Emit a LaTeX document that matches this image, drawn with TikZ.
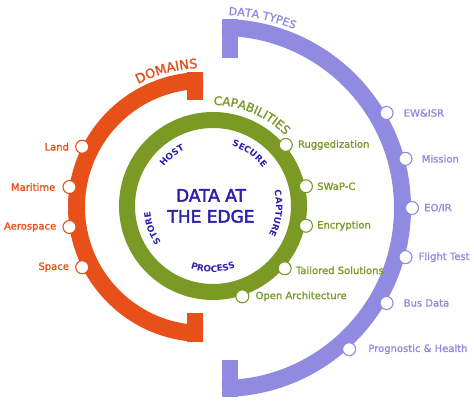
\documentclass[tikz,border=0pt]{standalone}
\usepackage{fontspec}
\setmainfont{DejaVu Sans}
\newfontfamily\labfont{DejaVu Sans}[FakeBold=1.5]
\newfontfamily\edgefont{DejaVu Sans}[FakeBold=2.5]
\usetikzlibrary{positioning, calc, decorations.text}
\definecolor{DomainRed}{RGB}{232,80,26}
\definecolor{CapGreen}{RGB}{122,153,37}
\definecolor{TypeViolet}{RGB}{144,138,224}
\definecolor{EdgeBlue}{RGB}{42,30,170}

\begin{document}
\begin{tikzpicture}[x=1pt, y=1pt,
    dot/.style={circle, draw=#1, fill=white, line width=1.1pt, minimum size=13pt, inner sep=0pt},
    lab/.style={text=#1, font=\labfont\fontsize{10}{12}\selectfont, inner sep=0pt},
    arctext/.style={decorate, decoration={text along path, text align=center, text={#1}}}]
    \useasboundingbox (0,0) rectangle (474,401);
    \coordinate (O) at (203,194);
    \coordinate (G) at (213,195);
    \coordinate (P) at (222,193);

    % Domains ring
    \draw[DomainRed, line width=17pt] ([shift={(90:126.5pt)}]O) arc[start angle=90, end angle=270, radius=126.5pt];
    \fill[DomainRed] (187,301) rectangle (203,329);
    \fill[DomainRed] (187,59) rectangle (203,88);
    \path[arctext={|\labfont\color{DomainRed}\fontsize{13}{13}\selectfont|DOMAINS}] ([shift={(130:139pt)}]O) arc[start angle=130, end angle=80, radius=139pt];

    % Data types ring
    \draw[TypeViolet, line width=17pt] ([shift={(90:180.5pt)}]P) arc[start angle=90, end angle=-90, radius=180.5pt];
    \fill[TypeViolet] (222,343) rectangle (238,382);
    \fill[TypeViolet] (222,4) rectangle (238,41);
    \path[arctext={|\labfont\color{TypeViolet}\fontsize{11}{11}\selectfont|DATA TYPES}] ([shift={(100:193pt)}]P) arc[start angle=100, end angle=56, radius=193pt];

    % Capabilities ring
    \draw[CapGreen, line width=16pt] (G) circle[radius=86pt];
    \path[arctext={|\labfont\color{CapGreen}\fontsize{12}{12}\selectfont|CAPABILITIES}] ([shift={(101:101pt)}]G) arc[start angle=101, end angle=33, radius=101pt];

    % Inner words
    \path[arctext={|\color{EdgeBlue}\fontsize{8.8}{8.8}\selectfont\bfseries|HOST}] ([shift={(155:63pt)}]G) arc[start angle=155, end angle=103, radius=63pt];
    \path[arctext={|\color{EdgeBlue}\fontsize{8.8}{8.8}\selectfont\bfseries|SECURE}] ([shift={(85:63pt)}]G) arc[start angle=85, end angle=25, radius=63pt];
    \path[arctext={|\color{EdgeBlue}\fontsize{8.8}{8.8}\selectfont\bfseries|CAPTURE}] ([shift={(28:63pt)}]G) arc[start angle=28, end angle=-42, radius=63pt];
    \path[arctext={|\color{EdgeBlue}\fontsize{8.8}{8.8}\selectfont\bfseries|PROCESS}] ([shift={(235:66pt)}]G) arc[start angle=235, end angle=305, radius=66pt];
    \path[arctext={|\color{EdgeBlue}\fontsize{8.8}{8.8}\selectfont\bfseries|STORE}] ([shift={(228:63pt)}]G) arc[start angle=228, end angle=172, radius=63pt];

    \node[text=EdgeBlue, align=center, font=\edgefont\fontsize{17}{21}\selectfont] (core) at (211,195) {DATA AT\\THE EDGE};

    % Domain markers
    \node[dot=DomainRed] (land) at ([shift={(153.5:135pt)}]O) {};
    \node[dot=DomainRed] (maritime) at ([shift={(171.5:135pt)}]O) {};
    \node[dot=DomainRed] (aero) at ([shift={(188.5:135pt)}]O) {};
    \node[dot=DomainRed] (space) at ([shift={(206.5:135pt)}]O) {};
    \node[lab=DomainRed, left=6pt of land] (landtxt) {Land};
    \node[lab=DomainRed, left=7pt of maritime] (maritimetxt) {Maritime};
    \node[lab=DomainRed, left=6pt of aero] (aerotxt) {Aerospace};
    \node[lab=DomainRed, left=6pt of space] (spacetxt) {Space};

    % Capability markers
    \node[dot=CapGreen] (rugged) at ([shift={(40:95pt)}]G) {};
    \node[dot=CapGreen] (swap) at ([shift={(12:95pt)}]G) {};
    \node[dot=CapGreen] (crypt) at ([shift={(-12:95pt)}]G) {};
    \node[dot=CapGreen] (tailor) at ([shift={(-41:95pt)}]G) {};
    \node[dot=CapGreen] (openarch) at ([shift={(-72:95pt)}]G) {};
    \node[lab=CapGreen, right=5pt of rugged] (ruggedtxt) {Ruggedization};
    \node[lab=CapGreen, right=4pt of swap] (swaptxt) {SWaP-C};
    \node[lab=CapGreen, right=4pt of crypt] (crypttxt) {Encryption};
    \node[lab=CapGreen, right=4pt of tailor, yshift=-2pt] (tailortxt) {Tailored Solutions};
    \node[lab=CapGreen, right=6pt of openarch] (openarchtxt) {Open Architecture};

    % Data type markers
    \node[dot=TypeViolet] (ewisr) at ([shift={(30:190pt)}]P) {};
    \node[dot=TypeViolet] (mission) at ([shift={(15:190pt)}]P) {};
    \node[dot=TypeViolet] (eoir) at ([shift={(0:190pt)}]P) {};
    \node[dot=TypeViolet] (flight) at ([shift={(-15:190pt)}]P) {};
    \node[dot=TypeViolet] (bus) at ([shift={(-30:190pt)}]P) {};
    \node[dot=TypeViolet] (health) at ([shift={(-48:190pt)}]P) {};
    \node[lab=TypeViolet, right=10pt of ewisr] (ewisrtxt) {EW\&ISR};
    \node[lab=TypeViolet, right=9pt of mission] (missiontxt) {Mission};
    \node[lab=TypeViolet, right=5pt of eoir] (eoirtxt) {EO/IR};
    \node[lab=TypeViolet, right=6pt of flight] (flighttxt) {Flight Test};
    \node[lab=TypeViolet, right=10pt of bus] (bustxt) {Bus Data};
    \node[lab=TypeViolet, right=12pt of health] (healthtxt) {Prognostic \& Health};
\end{tikzpicture}
\end{document}
